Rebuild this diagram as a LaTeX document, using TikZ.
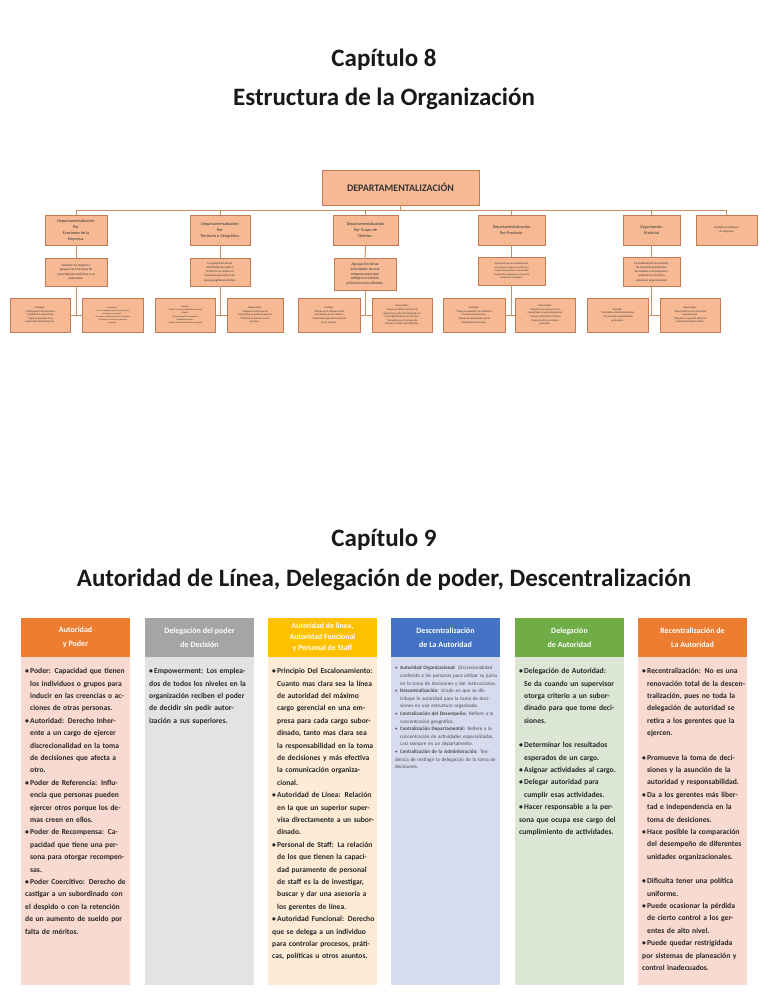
\documentclass[tikz,border=0pt]{standalone}
\usepackage{fontspec}
\setmainfont{Carlito}
\definecolor{sal}{HTML}{F6B994}
\definecolor{salb}{HTML}{C27A52}
\definecolor{ln}{HTML}{C98D62}
\definecolor{org}{HTML}{ED7D31}
\definecolor{orgb}{HTML}{F9DAD0}
\definecolor{gry}{HTML}{A5A5A5}
\definecolor{gryb}{HTML}{E3E3E3}
\definecolor{gld}{HTML}{FFC000}
\definecolor{gldb}{HTML}{FDEBD6}
\definecolor{blu}{HTML}{4472C4}
\definecolor{blub}{HTML}{D6DBEE}
\definecolor{grn}{HTML}{70AD47}
\definecolor{grnb}{HTML}{DCE6D5}
\newcommand{\itm}{\par\hangindent=5pt\hangafter=1\noindent\makebox[5pt][l]{•}}
\tikzset{
 ob/.style={draw=salb,fill=sal,line width=0.6pt,align=center,inner sep=1pt,text=black!80,font=\fontsize{4.2}{6}\selectfont},
 sb/.style={ob,font=\fontsize{2.6}{3.6}\selectfont},
 con/.style={draw=ln,line width=1pt},
 hd/.style={text=white,align=center,font=\fontsize{8}{14}\selectfont\bfseries},
 bd/.style={anchor=north west,text width=103pt,align=left,inner sep=0pt,font=\fontsize{7.6}{12.4}\selectfont\bfseries,text=black!85},
 ttl/.style={font=\fontsize{25}{28}\selectfont\bfseries,text=black!90}
}
\begin{document}
\begin{tikzpicture}[x=1pt,y=-1pt]
\useasboundingbox (0,0) rectangle (768,1006);
\fill[white] (0,0) rectangle (768,1006);
\node[ttl] (t1) at (384,60) {Capítulo 8};
\node[ttl] (t2) at (384,99) {Estructura de la Organización};
\node[ttl] (t3) at (384,540) {Capítulo 9};
\node[ttl] (t4) at (384,580) {Autoridad de Línea, Delegación de poder, Descentralización};
% org chart
\node[ob,minimum width=157pt,minimum height=35pt,font=\fontsize{10}{12}\selectfont\bfseries] (root) at (400.5,187.5) {DEPARTAMENTALIZACIÓN};
\coordinate (bar) at (0,210);
% level 1
\node[ob,minimum width=62pt,minimum height=30pt] (a1) at (76,230) {Departamentalización\\Por\\Funciones de la\\Empresa.};
\node[ob,minimum width=60pt,minimum height=30pt] (b1) at (220,230) {Departamentalización\\Por\\Territorio o Geográfica.};
\node[ob,minimum width=65pt,minimum height=30pt] (c1) at (365.5,230) {Departamentalización\\Por Grupo de\\Clientes.};
\node[ob,minimum width=67pt,minimum height=30pt] (d1) at (511.5,230) {Departamentalización\\Por Producto.};
\node[ob,minimum width=57pt,minimum height=30pt] (e1) at (651.5,230) {Organización\\Matricial};
\node[ob,minimum width=61pt,minimum height=30pt,font=\fontsize{2.8}{4}\selectfont] (f1) at (726.5,230) {Unidades Estratégicas\\de Negocios};
\draw[con] (root.south) -- ++(0,5) coordinate (rj);
\draw[con] (a1.north) |- (f1.north |- rj) -- (f1.north);
\foreach \n in {b1,c1,d1,e1} \draw[con] (\n.north) -- (\n.north |- rj);
% level 2
\node[ob,minimum width=62pt,minimum height=28pt,font=\fontsize{3.3}{4.5}\selectfont] (a2) at (76,272) {Consiste en separar y\\agrupar las funciones de\\una empresa conforme a su\\naturaleza.};
\node[ob,minimum width=60pt,minimum height=28pt,font=\fontsize{3}{4.2}\selectfont] (b2) at (220,272) {La agrupación de las\\actividades por área o\\territorio es común en\\empresas que operan en\\áreas geográficas amplias.};
\node[ob,minimum width=62pt,minimum height=32pt,font=\fontsize{3.8}{4.6}\selectfont] (c2) at (365,274) {Agrupación de las\\actividades de una\\empresa para que\\reflejen un interés\\primario en los clientes.};
\node[ob,minimum width=67pt,minimum height=28pt,font=\fontsize{2.5}{3.5}\selectfont] (d2) at (511.5,271) {Agrupación de las actividades de\\una empresa según sus productos\\o líneas de productos, sobre todo\\en grandes empresas con líneas de\\producción múltiples.};
\node[ob,minimum width=57pt,minimum height=29pt,font=\fontsize{3}{4.2}\selectfont] (e2) at (651.5,272) {La combinación de modelos\\de departamentalización\\funcionales y de proyecto o\\producto en la misma\\estructura organizacional.};
\foreach \n in {a,b,c,d,e} \draw[con] (\n1) -- (\n2);
% level 3
\node[sb,minimum width=60pt,minimum height=34pt] (a3) at (40,315) {Ventajas:\\* Refleja lógica de funciones.\\* Simplifica la capacitación.\\* Sigue el principio de la\\especialización profesional.};
\node[sb,minimum width=61pt,minimum height=34pt,font=\fontsize{2}{3}\selectfont] (a4) at (112.5,315) {Desventajas:\\* Se crean departamentos y secciones que\\protegen sus territorios.\\* Se reduce la coordinación entre funciones.\\* Se limita el desarrollo de gerentes\\generales.};
\node[sb,minimum width=60pt,minimum height=34pt,font=\fontsize{2.2}{3.2}\selectfont] (b3) at (185,315) {Ventajas:\\* Coloca la responsabilidad en un nivel\\inferior.\\* Da importancia a mercados y\\problemas locales.\\* Mejora la coordinación en una región.};
\node[sb,minimum width=56pt,minimum height=34pt] (b4) at (255,315) {Desventajas:\\*Requiere más personas\\capacitadas en gerencia general.\\*Dificulta el control a la alta\\gerencia.};
\node[sb,minimum width=62pt,minimum height=34pt] (c3) at (329,315) {Ventajas:\\*Alienta en el enfoque en las\\necesidades de los clientes.\\*Desarrolla experiencia en áreas\\de los clientes.};
\node[sb,minimum width=60pt,minimum height=34pt] (c4) at (402,315) {Desventajas:\\*Puede ser difícil coordinar las\\operaciones entre las demandas de\\la competitividad de los clientes.\\*Es posible que los grupos de\\clientes no estén bien definidos.};
\node[sb,minimum width=62pt,minimum height=34pt] (d3) at (474,315) {Ventajas:\\*Dirige la atención y los esfuerzos\\a la línea de productos.\\*Mejora la coordinación de las\\actividades funcionales.};
\node[sb,minimum width=60pt,minimum height=34pt] (d4) at (545,315) {Desventajas:\\*Requiere más personas con\\capacidades en gerencia general.\\*Tiende a dificultar el control\\financiero de los servicios\\generales.};
\node[sb,minimum width=61pt,minimum height=34pt] (e3) at (617.5,315) {Ventajas:\\*Orientado a Resultados Finales\\*Se conserva la especialidad\\profesional.};
\node[sb,minimum width=60pt,minimum height=34pt] (e4) at (690,315) {Desventajas:\\*Hay conflictos en la autoridad\\organizacional.\\*Requiere un gerente eficaz en\\relaciones interpersonales.};
\foreach \n in {a,b,c,d,e} {\draw[con] (\n2.south) -- (\n2.south |- \n3.east) coordinate (\n j); \draw[con] (\n3.east) -- (\n4.west);}
% chapter 9 columns
\foreach \x/\h/\b/\n in {21/org/orgb/1,145/gry/gryb/2,268/gld/gldb/3,391/blu/blub/4,515/grn/grnb/5,638/org/orgb/6}{
 \fill[\b] (\x,657) rectangle ++(109,328);
 \fill[\h] (\x,618) rectangle ++(109,39);
 \coordinate (h\n) at (\x+54.5,637.5);
 \coordinate (c\n) at (\x+4,661);
}
\node[hd] (H1) at (h1) {Autoridad\\y Poder};
\node[hd] (H2) at (h2) {Delegación del poder\\de Decisión};
\node[hd,font=\fontsize{7.8}{11}\selectfont\bfseries] (H3) at (h3) {Autoridad de línea,\\Autoridad Funcional\\y Personal de Staff};
\node[hd] (H4) at (h4) {Descentralización\\de La Autoridad};
\node[hd] (H5) at (h5) {Delegación\\de Autoridad};
\node[hd] (H6) at (h6) {Recentralización de\\La Autoridad};
\node[bd] (B1) at (c1) {\itm Poder: Capacidad que tienen los individuos o grupos para inducir en las creencias o acciones de otras personas.\itm Autoridad: Derecho Inherente a un cargo de ejercer discrecionalidad en la toma de decisiones que afecta a otro.\itm Poder de Referencia: Influencia que personas pueden ejercer otros porque los demas creen en ellos.\itm Poder de Recompensa: Capacidad que tiene una persona para otorgar recompensas.\itm Poder Coercitivo: Derecho de castigar a un subordinado con el despido o con la retención de un aumento de sueldo por falta de méritos.};
\node[bd] (B2) at (c2) {\itm Empowerment: Los empleados de todos los niveles en la organización reciben el poder de decidir sin pedir autorización a sus superiores.};
\node[bd] (B3) at (c3) {\itm Principio Del Escalonamiento: Cuanto mas clara sea la línea de autoridad del máximo cargo gerencial en una empresa para cada cargo subordinado, tanto mas clara sea la responsabilidad en la toma de decisiones y más efectiva la comunicación organizacional.\itm Autoridad de Línea: Relación en la que un superior supervisa directamente a un subordinado.\itm Personal de Staff: La relación de los que tienen la capacidad puramente de personal de staff es la de investigar, buscar y dar una asesoría a los gerentes de línea.\itm Autoridad Funcional: Derecho que se delega a un individuo para controlar procesos, práticas, políticas u otros asuntos.};
\node[bd,font=\fontsize{5.1}{7.6}\selectfont,text=black!70,yshift=-1pt] (B4) at (c4) {\itm\textbf{Autoridad Organizacional:} Discrecionalidad conferida a las personas para utilizar su juicio en la toma de decisiones y dar instrucciones.\itm\textbf{Descentralización:} Grado en que se distribuye la autoridad para la toma de decisiones en una estructura organizada.\itm\textbf{Centralización del Desempeño:} Refiere a la concentración geografica.\itm\textbf{Centralización Departamental:} Refiere a la concentración de actividades especializadas, casi siempre en un departamento.\itm\textbf{Centralización de la Administración:} Tendencia de restingir la delegación de la toma de decisiones.};
\node[bd] (B5) at (c5) {\itm Delegación de Autoridad: Se da cuando un supervisor otorga criterio a un subordinado para que tome decisiones.\par\vspace{12pt}\itm Determinar los resultados esperados de un cargo.\itm Asignar actividades al cargo.\itm Delegar autoridad para cumplir esas actividades.\itm Hacer responsable a la persona que ocupa ese cargo del cumplimiento de actividades.};
\node[bd] (B6) at (c6) {\itm Recentralización: No es una renovación total de la descentralización, pues no toda la delegación de autoridad se retira a los gerentes que la ejercen.\par\vspace{12pt}\itm Promueve la toma de decisiones y la asunción de la autoridad y responsabilidad.\itm Da a los gerentes más libertad e independencia en la toma de desiciones.\itm Hace posible la comparación del desempeño de diferentes unidades organizacionales.\par\vspace{12pt}\itm Dificulta tener una política uniforme.\itm Puede ocasionar la pérdida de cierto control a los gerentes de alto nivel.\itm Puede quedar restrigidada por sistemas de planeación y control inadecuados.};
\end{tikzpicture}
\end{document}
